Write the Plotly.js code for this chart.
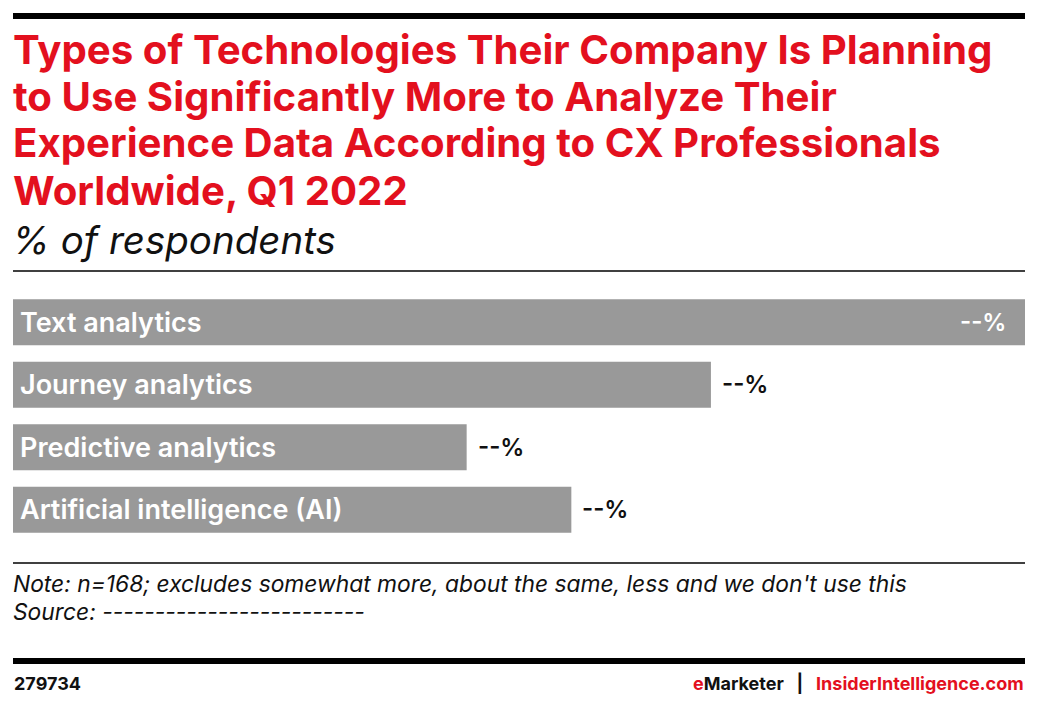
<!DOCTYPE html>
<html><head><meta charset="utf-8">
<script src="https://cdn.plot.ly/plotly-3.0.1.min.js"></script>
<style>html,body{margin:0;padding:0;background:#fff}#chart{width:1038px;height:707px}</style>
</head><body><div id="chart"></div>
<script>
const categories = ["Text analytics", "Journey analytics", "Predictive analytics", "Artificial intelligence (AI)"];
const values = [58, 40, 26, 32];
const valueLabels = ["--%", "--%", "--%", "--%"];
const titleLines = ["Types of Technologies Their Company Is Planning", "to Use Significantly More to Analyze Their", "Experience Data According to CX Professionals", "Worldwide, Q1 2022"];
const subtitle = "% of respondents";
const noteText = "Note: n=168; excludes somewhat more, about the same, less and we don't use this";
const sourceText = "Source: -------------------------";
const chartId = "279734";

const W = 1038, H = 707, ML = 13, MR = 13, MT = 291, MB = 166;
const PW = W - ML - MR, PH = H - MT - MB;
const xp = px => (px - ML) / PW;
const yp = py => (H - MB - py) / PH;
const RED = "#e3101e";
const FONT = "Inter, 'Open Sans', sans-serif";

const annotations = [];
titleLines.forEach((t, i) => annotations.push({xref:"paper", yref:"paper", x:xp(11), y:yp(49 + i*47), xanchor:"left", yanchor:"middle", text:t, showarrow:false, font:{family:FONT, size:40.2, color:RED, weight:700}}));
annotations.push({xref:"paper", yref:"paper", x:xp(10), y:yp(240), xanchor:"left", yanchor:"middle", text:"<i>"+subtitle+"</i>", showarrow:false, font:{family:FONT, size:38.5, color:"#111"}});
categories.forEach((c, i) => {
  annotations.push({x:0, y:c, xref:"x", yref:"y", xanchor:"left", yanchor:"middle", xshift:5, text:c, showarrow:false, font:{family:FONT, size:27, color:"#fff", weight:600}});
  const inside = i === 0;
  annotations.push({x:values[i], y:c, xref:"x", yref:"y", xanchor: inside ? "right" : "left", yanchor:"middle", xshift: inside ? -17 : 9, text:valueLabels[i], showarrow:false, font:{family:FONT, size:24, color: inside ? "#fff" : "#111", weight:600}});
});
annotations.push({xref:"paper", yref:"paper", x:xp(11), y:yp(583), xanchor:"left", yanchor:"middle", text:"<i>"+noteText+"</i>", showarrow:false, font:{family:FONT, size:22.8, color:"#111"}});
annotations.push({xref:"paper", yref:"paper", x:xp(11), y:yp(611), xanchor:"left", yanchor:"middle", text:"<i>"+sourceText+"</i>", showarrow:false, font:{family:FONT, size:22.8, color:"#111"}});
annotations.push({xref:"paper", yref:"paper", x:xp(12), y:yp(683), xanchor:"left", yanchor:"middle", text:"<b>"+chartId+"</b>", showarrow:false, font:{family:FONT, size:18, color:"#111"}});
annotations.push({xref:"paper", yref:"paper", x:xp(1026), y:yp(683), xanchor:"right", yanchor:"middle", text:"<b><span style='color:"+RED+"'>e</span>Marketer&nbsp;&nbsp;&nbsp;|&nbsp;&nbsp;&nbsp;<span style='color:"+RED+"'>InsiderIntelligence.com</span></b>", showarrow:false, font:{family:FONT, size:18, color:"#111"}});

const shapes = [
  {type:"rect", xref:"paper", yref:"paper", x0:xp(13), x1:xp(1025), y0:yp(13), y1:yp(19), fillcolor:"#000", line:{width:0}},
  {type:"line", xref:"paper", yref:"paper", x0:xp(13), x1:xp(1025), y0:yp(271), y1:yp(271), line:{color:"#000", width:1.5}},
  {type:"line", xref:"paper", yref:"paper", x0:xp(13), x1:xp(1025), y0:yp(563), y1:yp(563), line:{color:"#000", width:1.5}},
  {type:"rect", xref:"paper", yref:"paper", x0:xp(13), x1:xp(1025), y0:yp(658), y1:yp(664), fillcolor:"#000", line:{width:0}}
];

const trace = {type:"bar", orientation:"h", x:values, y:categories, marker:{color:"#999999"}, hoverinfo:"none", textposition:"none"};
const layout = {
  width:W, height:H, margin:{l:ML, r:MR, t:MT, b:MB, pad:0},
  paper_bgcolor:"#fff", plot_bgcolor:"#fff", showlegend:false, bargap:0.265,
  xaxis:{range:[0, Math.max(...values)], visible:false, fixedrange:true},
  yaxis:{autorange:"reversed", visible:false, fixedrange:true},
  annotations, shapes
};
Plotly.newPlot("chart", [trace], layout, {staticPlot:true, displayModeBar:false});
</script></body></html>
